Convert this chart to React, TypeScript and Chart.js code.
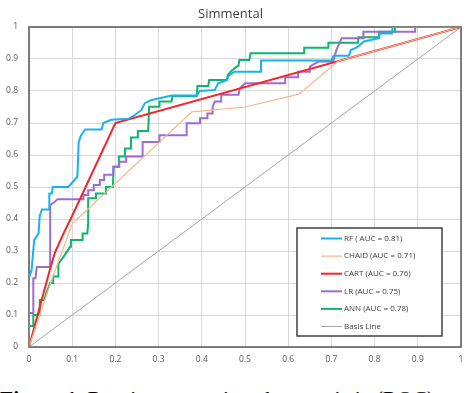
import { useEffect, useRef } from 'react';
import { Chart, registerables } from 'chart.js';

Chart.register(...registerables);

const chartTitle = 'Simmental';
const xTickLabels = ['0', '0.1', '0.2', '0.3', '0.4', '0.5', '0.6', '0.7', '0.8', '0.9', '1'];
const yTickLabels = ['0', '0.1', '0.2', '0.3', '0.4', '0.5', '0.6', '0.7', '0.8', '0.9', '1'];
const seriesNames = ['RF ( AUC = 0.81)', 'CHAID (AUC = 0.71)', 'CART (AUC = 0.76)', 'LR (AUC = 0.75)', 'ANN (AUC = 0.78)', 'Basis Line'];

const rfPoints: [number, number][] = [
  [0, 0], [0, 0.217], [0.006, 0.24], [0.012, 0.334], [0.022, 0.355], [0.025, 0.41], [0.03, 0.43],
  [0.047, 0.43], [0.047, 0.48], [0.053, 0.48], [0.055, 0.5], [0.091, 0.5], [0.112, 0.532],
  [0.115, 0.64], [0.12, 0.66], [0.13, 0.68], [0.168, 0.68], [0.172, 0.7], [0.19, 0.71],
  [0.23, 0.713], [0.245, 0.725], [0.26, 0.74], [0.268, 0.762], [0.284, 0.772], [0.33, 0.786],
  [0.388, 0.786], [0.395, 0.8], [0.43, 0.803], [0.438, 0.824], [0.458, 0.834], [0.462, 0.848],
  [0.475, 0.86], [0.537, 0.86], [0.537, 0.895], [0.7, 0.895], [0.705, 0.91], [0.74, 0.91],
  [0.745, 0.928], [0.76, 0.937], [0.775, 0.955], [0.81, 0.965], [0.812, 0.98], [0.84, 0.98],
  [0.842, 1], [1, 1],
];

const chaidPoints: [number, number][] = [
  [0, 0], [0.05, 0.2], [0.1, 0.385], [0.377, 0.735], [0.5, 0.75], [0.625, 0.79], [0.715, 0.893], [1, 1],
];

const cartPoints: [number, number][] = [
  [0, 0], [0.02, 0.1], [0.04, 0.2], [0.05, 0.25], [0.06, 0.295], [0.08, 0.355], [0.1, 0.41], [0.2, 0.7], [1, 1],
];

const lrPoints: [number, number][] = [
  [0, 0], [0, 0.106], [0.01, 0.106], [0.01, 0.215], [0.015, 0.215], [0.018, 0.25], [0.049, 0.25],
  [0.049, 0.444], [0.06, 0.454], [0.066, 0.462], [0.126, 0.462], [0.126, 0.475], [0.137, 0.475],
  [0.137, 0.49], [0.15, 0.49], [0.15, 0.506], [0.164, 0.506], [0.164, 0.522], [0.174, 0.522],
  [0.174, 0.538], [0.195, 0.538], [0.195, 0.563], [0.209, 0.563], [0.209, 0.579], [0.225, 0.579],
  [0.225, 0.595], [0.263, 0.595], [0.263, 0.641], [0.302, 0.641], [0.302, 0.662], [0.365, 0.662],
  [0.365, 0.699], [0.396, 0.699], [0.396, 0.715], [0.413, 0.715], [0.413, 0.73], [0.425, 0.73],
  [0.425, 0.751], [0.43, 0.767], [0.445, 0.767], [0.445, 0.788], [0.485, 0.788], [0.488, 0.808],
  [0.5, 0.824], [0.593, 0.824], [0.593, 0.843], [0.623, 0.843], [0.623, 0.86], [0.65, 0.86],
  [0.65, 0.876], [0.67, 0.892], [0.704, 0.892], [0.712, 0.93], [0.724, 0.965], [0.774, 0.965],
  [0.774, 0.985], [0.894, 0.985], [0.894, 1], [1, 1],
];

const annPoints: [number, number][] = [
  [0, 0], [0, 0.066], [0.01, 0.066], [0.01, 0.1], [0.025, 0.1], [0.025, 0.147], [0.035, 0.147],
  [0.04, 0.168], [0.049, 0.2], [0.056, 0.2], [0.056, 0.22], [0.068, 0.22], [0.068, 0.26],
  [0.083, 0.288], [0.095, 0.313], [0.097, 0.334], [0.124, 0.334], [0.124, 0.355], [0.135, 0.355],
  [0.137, 0.386], [0.137, 0.465], [0.155, 0.465], [0.155, 0.48], [0.178, 0.48], [0.178, 0.5],
  [0.194, 0.5], [0.196, 0.563], [0.208, 0.563], [0.208, 0.595], [0.222, 0.595], [0.222, 0.62],
  [0.236, 0.62], [0.236, 0.655], [0.25, 0.655], [0.252, 0.675], [0.276, 0.675], [0.278, 0.751],
  [0.302, 0.751], [0.302, 0.767], [0.33, 0.767], [0.332, 0.784], [0.388, 0.784], [0.39, 0.816],
  [0.415, 0.816], [0.417, 0.834], [0.458, 0.834], [0.46, 0.85], [0.47, 0.865], [0.485, 0.88],
  [0.487, 0.897], [0.51, 0.897], [0.513, 0.918], [0.637, 0.918], [0.637, 0.935], [0.693, 0.935],
  [0.693, 0.951], [0.762, 0.951], [0.762, 0.968], [0.81, 0.968], [0.81, 0.985], [0.847, 0.985],
  [0.847, 1], [1, 1],
];

const basisPoints: [number, number][] = [[0, 0], [1, 1]];

const seriesData = [rfPoints, chaidPoints, cartPoints, lrPoints, annPoints, basisPoints];
const seriesColors = ['#1ab2ec', '#f6b68a', '#f0262a', '#a06bcf', '#0fb56c', '#a6a6a6'];
const seriesWidths = [2, 1.2, 2, 2, 2, 1];

export default function App() {
  const ref = useRef<HTMLCanvasElement>(null);

  useEffect(() => {
    const canvas = ref.current;
    if (!canvas) return;

    const framePlugin = {
      id: 'frame',
      beforeDatasetsDraw(chart: any) {
        const { ctx, chartArea } = chart;
        ctx.save();
        ctx.strokeStyle = '#5f5f5f';
        ctx.lineWidth = 1.6;
        ctx.strokeRect(chartArea.left, chartArea.top, chartArea.right - chartArea.left, chartArea.bottom - chartArea.top);
        ctx.restore();
      },
    };

    const legendPlugin = {
      id: 'legendBox',
      afterDraw(chart: any) {
        const { ctx } = chart;
        const bx = 297, by = 228, bw = 145, bh = 108;
        ctx.save();
        ctx.fillStyle = '#ffffff';
        ctx.fillRect(bx, by, bw, bh);
        ctx.strokeStyle = '#404040';
        ctx.lineWidth = 1.5;
        ctx.strokeRect(bx, by, bw, bh);
        ctx.font = '8px "Open Sans"';
        ctx.textBaseline = 'middle';
        ctx.textAlign = 'left';
        chart.data.datasets.forEach((ds: any, i: number) => {
          const y = by + 10.5 + i * 17.6;
          ctx.strokeStyle = ds.borderColor;
          ctx.lineWidth = ds.borderWidth;
          ctx.beginPath();
          ctx.moveTo(321, y);
          ctx.lineTo(342, y);
          ctx.stroke();
          ctx.fillStyle = '#404040';
          ctx.fillText(ds.label, 344, y);
        });
        ctx.restore();
      },
    };

    const tickFont = { family: '"Open Sans"', size: 8.5 };

    const chart = new Chart(canvas, {
      type: 'line',
      data: {
        datasets: seriesNames.map((name, i) => ({
          label: name,
          data: seriesData[i].map(([x, y]) => ({ x, y })),
          borderColor: seriesColors[i],
          backgroundColor: seriesColors[i],
          borderWidth: seriesWidths[i],
          pointRadius: 0,
          tension: 0,
          fill: false,
        })),
      },
      options: {
        responsive: false,
        animation: false,
        events: [],
        layout: { padding: { left: 0, right: 13, top: 0, bottom: 0 } },
        plugins: {
          legend: { display: false },
          tooltip: { enabled: false },
          title: {
            display: true,
            text: chartTitle,
            color: '#404040',
            font: { family: '"Open Sans"', size: 13, weight: 'normal' },
            padding: { top: 6, bottom: 5.4 },
          },
        },
        scales: {
          x: {
            type: 'linear',
            min: 0,
            max: 1,
            afterFit: (s: any) => { s.height = 28; },
            ticks: {
              stepSize: 0.1,
              padding: 7,
              color: '#595959',
              font: tickFont,
              autoSkip: false,
              maxRotation: 0,
              callback: (v: any) => xTickLabels[Math.round(Number(v) * 10)],
            },
            grid: { color: '#d9d9d9', lineWidth: 1, drawTicks: false },
            border: { display: false },
          },
          y: {
            type: 'linear',
            min: 0,
            max: 1,
            afterFit: (s: any) => { s.width = 29; },
            ticks: {
              stepSize: 0.1,
              padding: 11,
              color: '#595959',
              font: tickFont,
              autoSkip: false,
              callback: (v: any) => yTickLabels[Math.round(Number(v) * 10)],
            },
            grid: { color: '#d9d9d9', lineWidth: 1, drawTicks: false },
            border: { display: false },
          },
        },
      } as any,
      plugins: [framePlugin, legendPlugin],
    });

    return () => chart.destroy();
  }, []);

  return (
    <div style={{ position: 'absolute', left: 0, top: 0, width: 474, height: 393, overflow: 'hidden', background: '#fff' }}>
      <canvas ref={ref} width={474} height={375} style={{ display: 'block', width: 474, height: 375 }} />
      <div
        style={{
          position: 'absolute',
          left: 0,
          top: 387,
          fontFamily: '"Liberation Serif", serif',
          fontSize: '21.5px',
          whiteSpace: 'nowrap',
          color: '#000',
        }}
      >
        <b>Figure 1.</b> Receiver operating characteristic (ROC)
      </div>
    </div>
  );
}
